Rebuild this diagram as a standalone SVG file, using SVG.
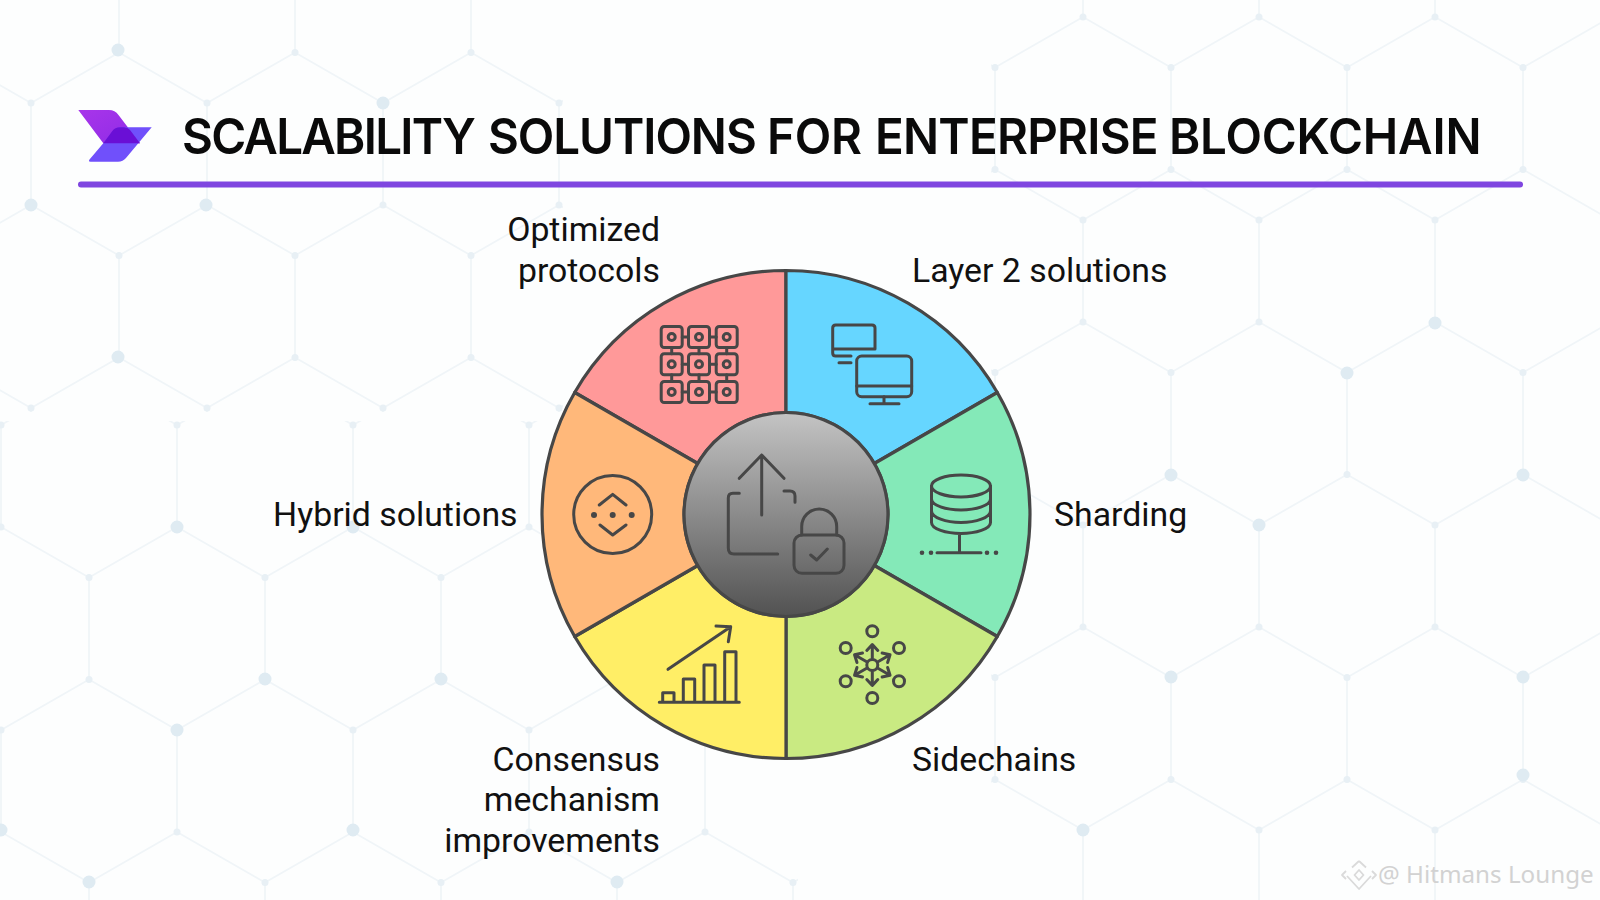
<svg xmlns="http://www.w3.org/2000/svg" width="1600" height="900" viewBox="0 0 1600 900">
<style>
.hex{fill:none;stroke:#f0f5f8;stroke-width:1.800}
.nd{fill:#e8f0f5}
.big{fill:#dfebf2}
.sec{stroke:#474747;stroke-width:3.200;stroke-linejoin:round}
.ic{fill:none;stroke:#474747;stroke-width:3;stroke-linecap:round;stroke-linejoin:round}
.icd{fill:#474747}
.lb{font-family:Roboto,"Liberation Sans",sans-serif;font-size:33.800px;fill:#111}
.end{text-anchor:end}
</style>
<defs>
<pattern id="hexUL" patternUnits="userSpaceOnUse" x="31" y="103" width="176" height="305">
<path class="hex" d="M0,0V102L88,152.500V254.500L0,305M176,0V102L88,152.500M88,254.500L176,305"/>
<circle class="nd" cx="0" cy="0" r="3.500"/><circle class="nd" cx="176" cy="0" r="3.500"/><circle class="nd" cx="0" cy="102" r="3.500"/><circle class="nd" cx="176" cy="102" r="3.500"/><circle class="nd" cx="88" cy="152.500" r="3.500"/><circle class="nd" cx="88" cy="254.500" r="3.500"/><circle class="nd" cx="0" cy="305" r="3.500"/><circle class="nd" cx="176" cy="305" r="3.500"/>
</pattern>
<pattern id="hexLL" patternUnits="userSpaceOnUse" x="177" y="425" width="176" height="305">
<path class="hex" d="M0,0V102L88,152.500V254.500L0,305M176,0V102L88,152.500M88,254.500L176,305"/>
<circle class="nd" cx="0" cy="0" r="3.500"/><circle class="nd" cx="176" cy="0" r="3.500"/><circle class="nd" cx="0" cy="102" r="3.500"/><circle class="nd" cx="176" cy="102" r="3.500"/><circle class="nd" cx="88" cy="152.500" r="3.500"/><circle class="nd" cx="88" cy="254.500" r="3.500"/><circle class="nd" cx="0" cy="305" r="3.500"/><circle class="nd" cx="176" cy="305" r="3.500"/>
</pattern>
<pattern id="hexR" patternUnits="userSpaceOnUse" x="1259" y="220" width="176" height="305">
<path class="hex" d="M0,0V102L88,152.500V254.500L0,305M176,0V102L88,152.500M88,254.500L176,305"/>
<circle class="nd" cx="0" cy="0" r="3.500"/><circle class="nd" cx="176" cy="0" r="3.500"/><circle class="nd" cx="0" cy="102" r="3.500"/><circle class="nd" cx="176" cy="102" r="3.500"/><circle class="nd" cx="88" cy="152.500" r="3.500"/><circle class="nd" cx="88" cy="254.500" r="3.500"/><circle class="nd" cx="0" cy="305" r="3.500"/><circle class="nd" cx="176" cy="305" r="3.500"/>
</pattern>
<linearGradient id="hub" x1="0" y1="0" x2="0" y2="1"><stop offset="0" stop-color="#c4c4c4"/><stop offset="1" stop-color="#525252"/></linearGradient>
<linearGradient id="lg1" x1="0" y1="0" x2="1" y2="1"><stop offset="0" stop-color="#a835ea"/><stop offset="1" stop-color="#8f2be6"/></linearGradient>
<g id="spoke"><path class="ic" d="M0,-7V-20M-5.500,-14.500L0,-20.500L5.500,-14.500"/></g>
</defs>
<g id="background">
<rect width="1600" height="900" fill="#fdfefe"/>
<rect x="0" y="0" width="563" height="412" fill="url(#hexUL)"/>
<rect x="0" y="421" width="798" height="479" fill="url(#hexLL)"/>
<rect x="991" y="0" width="609" height="900" fill="url(#hexR)"/>
<g class="big"><circle cx="118" cy="50" r="6.500"/><circle cx="383" cy="103" r="6.500"/><circle cx="31" cy="205" r="6.500"/><circle cx="206" cy="205" r="6.500"/><circle cx="118" cy="357" r="6.500"/><circle cx="177" cy="527" r="6.500"/><circle cx="353" cy="527" r="6.500"/><circle cx="265" cy="679" r="6.500"/><circle cx="441" cy="679" r="6.500"/><circle cx="177" cy="730" r="6.500"/><circle cx="1" cy="830" r="6.500"/><circle cx="353" cy="830" r="6.500"/><circle cx="89" cy="882" r="6.500"/><circle cx="617" cy="882" r="6.500"/><circle cx="1347" cy="373" r="6.500"/><circle cx="1435" cy="323" r="6.500"/><circle cx="1171" cy="475" r="6.500"/><circle cx="1523" cy="475" r="6.500"/><circle cx="1259" cy="525" r="6.500"/><circle cx="1171" cy="677" r="6.500"/><circle cx="1523" cy="677" r="6.500"/><circle cx="1523" cy="775" r="6.500"/><circle cx="1083" cy="830" r="6.500"/></g>
</g>
<g id="header">
<g id="logo">
<path fill="url(#lg1)" d="M78.300,110H109Q115,110 118.500,115L140,143.300H103.300Z"/>
<path fill="#7050fb" d="M151.700,127.300L126,158Q123,161.700 118,161.700H90.500Q88,161.700 89.500,159.500L103.300,143.300L113,131Q116,127.300 121,127.300Z"/>
<path fill="#6a0fd6" d="M103.300,143.300L112,131.500Q115,127.300 120,127.300H124Q128,127.300 130,130L140,143.300Z"/>
</g>
<text id="title" transform="scale(.96,1)" y="154.500" font-family="Inter,'Liberation Sans',sans-serif" font-size="49.500" font-weight="600" fill="#0a0a0a"><tspan x="189.600" letter-spacing="-1.800">SCALABILITY </tspan><tspan x="508.300" letter-spacing="-1.100">SOLUTIONS </tspan><tspan x="799" letter-spacing="-.2">FOR </tspan><tspan x="911.500" letter-spacing="-.8">ENTERPRISE </tspan><tspan x="1217.700" letter-spacing="-.2">BLOCKCHAIN</tspan></text>
<rect id="rule" x="78" y="181.500" width="1445" height="6" rx="3" fill="#7f46e0"/>
</g>
<g id="node-optimized-protocols">
<path class="sec" fill="#ff9999" d="M786,270.500A244,244 0 0 0 574.700,392.500L697.700,463.500A102,102 0 0 1 786,412.500Z"/>
<g class="ic">
<rect x="661.200" y="326.500" width="21" height="21" rx="3"/><rect x="688.500" y="326.500" width="21" height="21" rx="3"/><rect x="716.200" y="326.500" width="21" height="21" rx="3"/>
<rect x="661.200" y="353.800" width="21" height="21" rx="3"/><rect x="688.500" y="353.800" width="21" height="21" rx="3"/><rect x="716.200" y="353.800" width="21" height="21" rx="3"/>
<rect x="661.200" y="381.500" width="21" height="21" rx="3"/><rect x="688.500" y="381.500" width="21" height="21" rx="3"/><rect x="716.200" y="381.500" width="21" height="21" rx="3"/>
<circle cx="671.700" cy="337" r="3.500"/><circle cx="699" cy="337" r="3.500"/><circle cx="726.700" cy="337" r="3.500"/>
<circle cx="671.700" cy="364.300" r="3.500"/><circle cx="699" cy="364.300" r="3.500"/><circle cx="726.700" cy="364.300" r="3.500"/>
<circle cx="671.700" cy="392" r="3.500"/><circle cx="699" cy="392" r="3.500"/><circle cx="726.700" cy="392" r="3.500"/>
<path d="M682.200,337H688.500M709.500,337H716.200M682.200,364.300H688.500M709.500,364.300H716.200M682.200,392H688.500M709.500,392H716.200M671.700,347.500V353.800M699,347.500V353.800M726.700,347.500V353.800M671.700,374.800V381.500M699,374.800V381.500M726.700,374.800V381.500"/>
</g>
<text class="lb end" x="660" y="241">Optimized</text><text class="lb end" x="660" y="282">protocols</text>
</g>
<g id="node-layer-2">
<path class="sec" fill="#66d6ff" d="M786,270.500A244,244 0 0 1 997.300,392.500L874.300,463.500A102,102 0 0 0 786,412.500Z"/>
<g class="ic">
<path d="M875,349V328Q875,325 872,325H835.700Q832.700,325 832.700,328V353Q832.700,356 835.700,356H851M832.700,349H875M839,362.700H851"/>
<rect x="856.700" y="356" width="55" height="40.700" rx="5"/>
<path d="M856.700,386H911.700M884,396.700V403.700M870,403.700H899"/>
</g>
<text class="lb" x="912" y="282">Layer 2 solutions</text>
</g>
<g id="node-sharding">
<path class="sec" fill="#84e9b8" d="M997.300,392.500A244,244 0 0 1 997.300,636.500L874.300,565.500A102,102 0 0 0 874.300,463.500Z"/>
<g class="ic">
<ellipse cx="961" cy="486" rx="29.500" ry="11"/>
<path d="M931.500,486V522.500C931.500,529 946,533.500 961,533.500S990.500,529 990.500,522.500V486M931.500,499C931.500,505.500 946,510 961,510S990.500,505.500 990.500,499M931.500,511C931.500,517.500 946,522.500 961,522.500S990.500,517.500 990.500,511M959.500,533.500V552.700M937,552.700H981"/>
</g>
<g class="icd"><circle cx="922" cy="552.700" r="2.300"/><circle cx="931" cy="552.700" r="2.300"/><circle cx="987" cy="552.700" r="2.300"/><circle cx="996" cy="552.700" r="2.300"/></g>
<text class="lb" x="1054" y="526">Sharding</text>
</g>
<g id="node-sidechains">
<path class="sec" fill="#c9ea82" d="M997.300,636.500A244,244 0 0 1 786,758.500V616.500A102,102 0 0 0 874.300,565.500Z"/>
<g class="ic">
<circle cx="872.300" cy="665" r="5.500"/>
<circle cx="872.300" cy="631.300" r="5.500"/><circle cx="872.300" cy="698" r="5.500"/><circle cx="845.700" cy="648" r="5.500"/><circle cx="899" cy="648" r="5.500"/><circle cx="845.700" cy="681.300" r="5.500"/><circle cx="899" cy="681.300" r="5.500"/>
</g>
<use href="#spoke" transform="translate(872.300,665)"/><use href="#spoke" transform="translate(872.300,665) rotate(60)"/><use href="#spoke" transform="translate(872.300,665) rotate(120)"/><use href="#spoke" transform="translate(872.300,665) rotate(180)"/><use href="#spoke" transform="translate(872.300,665) rotate(240)"/><use href="#spoke" transform="translate(872.300,665) rotate(300)"/>
<text class="lb" x="912" y="771">Sidechains</text>
</g>
<g id="node-consensus">
<path class="sec" fill="#ffee66" d="M786,758.500A244,244 0 0 1 574.700,636.500L697.700,565.500A102,102 0 0 0 786,616.500Z"/>
<g class="ic">
<path d="M659.300,702.300H739.300M662.700,702.300V692.700H674V702.300M683.300,702.300V679H694.700V702.300M704,702.300V665H715V702.300M724.700,702.300V651.700H736V702.300M668,669.300L730.700,626.700M716,626L730.700,626.700L728.300,641.700"/>
</g>
<text class="lb end" x="660" y="770.500">Consensus</text><text class="lb end" x="660" y="811">mechanism</text><text class="lb end" x="660" y="851.500">improvements</text>
</g>
<g id="node-hybrid">
<path class="sec" fill="#ffb87a" d="M574.700,636.500A244,244 0 0 1 574.700,392.500L697.700,463.500A102,102 0 0 0 697.700,565.500Z"/>
<g class="ic">
<circle cx="612.700" cy="514.500" r="39"/>
<path d="M599.300,505L612.700,494.300L626,505M600,525L612.700,535L626,525"/>
</g>
<g class="icd"><circle cx="594" cy="515" r="3"/><circle cx="612.700" cy="515" r="3"/><circle cx="631.700" cy="515" r="3"/></g>
<text class="lb end" x="517.500" y="526">Hybrid solutions</text>
</g>
<g id="node-hub">
<circle cx="786" cy="514.500" r="102" fill="url(#hub)" stroke="#474747" stroke-width="3.200"/>
<g class="ic">
<path d="M761.700,515V455M739.300,478.300L761.700,455L784,478.300M739.300,493.300H733Q728.300,493.300 728.300,498V548Q728.300,554 734,554H777.700M784,491H790Q795,491 795,496V502.300"/>
<rect x="794" y="535" width="50" height="38.300" rx="8"/>
<path d="M801.700,535V526.500A17.500,17.500 0 0 1 836.700,526.500V535M810.700,555L816.700,560L827.300,549"/>
</g>
</g>
<g id="watermark">
<g fill="none" stroke="#dadada" stroke-width="1.800" stroke-linejoin="round">
<path d="M1359,861L1366,867.500M1359,861L1352,867.500M1359,870L1363.500,875L1359,880L1354.500,875ZM1347,876L1359,889L1371,876"/>
<path d="M1346,871L1342,875L1346,879M1372,871L1376,875L1372,879"/>
</g>
<text x="1378" y="883" font-family="'Noto Sans','Open Sans',sans-serif" font-size="24.200" fill="#d2d2d2">@ Hitmans Lounge</text>
</g>
</svg>
